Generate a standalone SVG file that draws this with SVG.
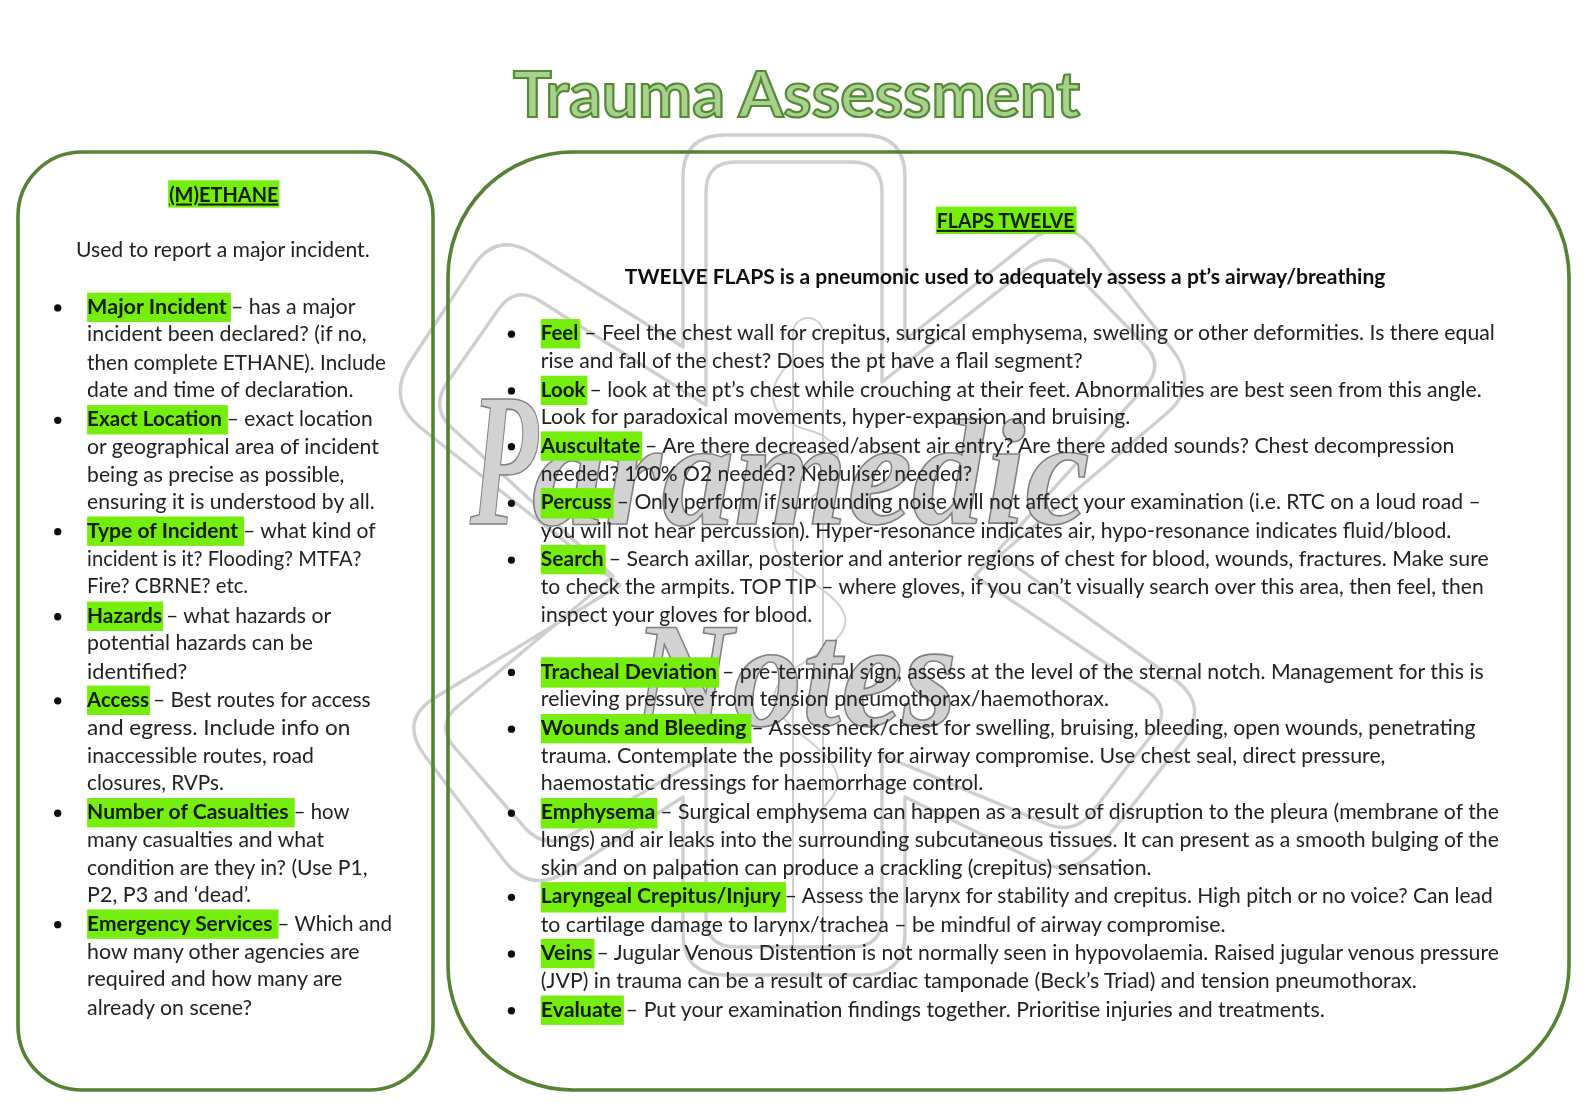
<svg xmlns="http://www.w3.org/2000/svg" width="1588" height="1118" viewBox="0 0 1588 1118">
<style>
text{font-family:Lato,"Liberation Sans",sans-serif;font-size:20px;fill:#222;white-space:pre}
.b{font-weight:700;fill:#0c1c04}
.u{text-decoration:underline}
.hl{fill:#75ee10}
.dot{fill:#111}
.panel{fill:none;stroke:#548235;stroke-width:3.6}
.title{font-size:64px;font-weight:700;fill:#a9d18e;stroke:#558a35;stroke-width:2.2}
.wm{font-family:"Liberation Serif",serif;font-style:italic;font-weight:700;font-size:150px;fill:#d2d2d2;stroke:#808080;stroke-width:1.6}
.snake{fill:none;stroke:#d0d0d0;stroke-width:2}
.star{fill:none;stroke-linejoin:round;stroke:#cfcfcf;stroke-width:3.4}
</style>
<defs>
<path id="outerStar" d="M683 177Q683 135 725 135L863 135Q905 135 905 177L905 340L1030 241Q1065 213 1093 249L1172 349Q1200 385 1166 414L1000 555L1174 679Q1210 705 1183 741L1102 844Q1075 880 1034 860L905 797L905 933Q905 975 863 975L725 975Q683 975 683 933L683 797L568 871Q530 895 503 859L425 756Q398 720 436 697L620 585L421 428Q386 400 410 362L472 268Q496 230 534 254L683 347Z"/>
<path id="innerStar" d="M706 192Q706 162 736 162L852 162Q882 162 882 192L882 382L1028 268Q1052 250 1073 271L1144 344Q1165 365 1145 387L975 576L1147 691Q1172 708 1154 732L1093 811Q1075 835 1047 824L882 755L882 917Q882 947 852 947L736 947Q706 947 706 917L706 755L571 835Q545 850 525 828L455 748Q435 725 458 706L613 576L452 428Q430 408 447 383L498 310Q515 285 540 301L706 405Z"/>
<filter id="soft" filterUnits="userSpaceOnUse" x="0" y="0" width="1588" height="1118"><feGaussianBlur stdDeviation="0.5"/></filter>
</defs>
<rect width="1588" height="1118" fill="#fff"/>
<g filter="url(#soft)">
<g id="watermark">
<use href="#outerStar" class="star"/>
<use href="#innerStar" class="star"/>
<rect x="793" y="318" width="30" height="640" rx="15" fill="none" stroke="#d0d0d0" stroke-width="2"/>
<path class="snake" d="M793 360C760 390 770 420 808 430S850 470 808 500S760 550 808 580S860 630 808 660S770 710 808 740S850 790 808 820"/>
<text class="wm" x="470" y="524" style="font-size:190px" textLength="68" lengthAdjust="spacingAndGlyphs">P</text>
<text class="wm" x="532" y="524" textLength="558" lengthAdjust="spacingAndGlyphs">aramedic</text>
<text class="wm" x="632" y="726" textLength="325" lengthAdjust="spacingAndGlyphs">Notes</text>
</g>
<g id="title"><text class="title" x="513" y="117" textLength="567" lengthAdjust="spacingAndGlyphs">Trauma Assessment</text></g>
<g id="panels">
<rect class="panel" x="18" y="152" width="415" height="938" rx="64"/>
<rect class="panel" x="448" y="152" width="1121" height="938" rx="125"/>
</g>
<g transform="scale(1.01276)">
<g id="methane">
<rect class="hl" x="166" y="178" width="110" height="27"/>
<text class="b u" x="167" y="199" textLength="108" lengthAdjust="spacingAndGlyphs">(M)ETHANE</text>
<text x="75" y="254" textLength="290" lengthAdjust="spacingAndGlyphs">Used to report a major incident.</text>
<g class="dot">
<circle cx="57" cy="304" r="3.6"/><circle cx="57" cy="415" r="3.6"/><circle cx="57" cy="525" r="3.6"/><circle cx="57" cy="609" r="3.6"/><circle cx="57" cy="692" r="3.6"/><circle cx="57" cy="803" r="3.6"/><circle cx="57" cy="913" r="3.6"/>
</g>
<g class="hl">
<rect x="86" y="289" width="142" height="29"/><rect x="86" y="400" width="139" height="29"/><rect x="86" y="510" width="155" height="29"/><rect x="86" y="594" width="75" height="29"/><rect x="86" y="677" width="62" height="29"/><rect x="86" y="788" width="205" height="29"/><rect x="86" y="898" width="189" height="29"/>
</g>
<text class="b" x="86" y="310" textLength="138" lengthAdjust="spacingAndGlyphs">Major Incident</text>
<text x="228" y="310" textLength="123" lengthAdjust="spacingAndGlyphs">– has a major</text>
<text x="86" y="337" textLength="276" lengthAdjust="spacingAndGlyphs">incident been declared? (if no,</text>
<text x="86" y="365" textLength="295" lengthAdjust="spacingAndGlyphs">then complete ETHANE). Include</text>
<text x="86" y="392" textLength="263" lengthAdjust="spacingAndGlyphs">date and time of declaration.</text>
<text class="b" x="86" y="421" textLength="133" lengthAdjust="spacingAndGlyphs">Exact Location</text>
<text x="224" y="421" textLength="144" lengthAdjust="spacingAndGlyphs">– exact location</text>
<text x="86" y="448" textLength="288" lengthAdjust="spacingAndGlyphs">or geographical area of incident</text>
<text x="86" y="476" textLength="254" lengthAdjust="spacingAndGlyphs">being as precise as possible,</text>
<text x="86" y="503" textLength="284" lengthAdjust="spacingAndGlyphs">ensuring it is understood by all.</text>
<text class="b" x="86" y="531" textLength="149" lengthAdjust="spacingAndGlyphs">Type of Incident</text>
<text x="240" y="531" textLength="131" lengthAdjust="spacingAndGlyphs">– what kind of</text>
<text x="86" y="559" textLength="271" lengthAdjust="spacingAndGlyphs">incident is it? Flooding? MTFA?</text>
<text x="86" y="586" textLength="159" lengthAdjust="spacingAndGlyphs">Fire? CBRNE? etc.</text>
<text class="b" x="86" y="615" textLength="74" lengthAdjust="spacingAndGlyphs">Hazards</text>
<text x="164" y="615" textLength="163" lengthAdjust="spacingAndGlyphs">– what hazards or</text>
<text x="86" y="642" textLength="223" lengthAdjust="spacingAndGlyphs">potential hazards can be</text>
<text x="86" y="670" textLength="99" lengthAdjust="spacingAndGlyphs">identified?</text>
<text class="b" x="86" y="698" textLength="61" lengthAdjust="spacingAndGlyphs">Access</text>
<text x="151" y="698" textLength="215" lengthAdjust="spacingAndGlyphs">– Best routes for access</text>
<text x="86" y="726" textLength="260" lengthAdjust="spacingAndGlyphs">and egress. Include info on</text>
<text x="86" y="753" textLength="224" lengthAdjust="spacingAndGlyphs">inaccessible routes, road</text>
<text x="86" y="780" textLength="135" lengthAdjust="spacingAndGlyphs">closures, RVPs.</text>
<text class="b" x="86" y="809" textLength="199" lengthAdjust="spacingAndGlyphs">Number of Casualties</text>
<text x="290" y="809" textLength="55" lengthAdjust="spacingAndGlyphs">– how</text>
<text x="86" y="836" textLength="234" lengthAdjust="spacingAndGlyphs">many casualties and what</text>
<text x="86" y="864" textLength="277" lengthAdjust="spacingAndGlyphs">condition are they in? (Use P1,</text>
<text x="86" y="891" textLength="162" lengthAdjust="spacingAndGlyphs">P2, P3 and ‘dead’.</text>
<text class="b" x="86" y="919" textLength="183" lengthAdjust="spacingAndGlyphs">Emergency Services</text>
<text x="274" y="919" textLength="113" lengthAdjust="spacingAndGlyphs">– Which and</text>
<text x="86" y="947" textLength="269" lengthAdjust="spacingAndGlyphs">how many other agencies are</text>
<text x="86" y="974" textLength="252" lengthAdjust="spacingAndGlyphs">required and how many are</text>
<text x="86" y="1002" textLength="163" lengthAdjust="spacingAndGlyphs">already on scene?</text>
</g>
<g id="flaps">
<rect class="hl" x="924" y="204" width="139" height="27"/>
<text class="b u" x="925" y="225" textLength="136" lengthAdjust="spacingAndGlyphs">FLAPS TWELVE</text>
<text class="b" style="fill:#111" x="617" y="280" textLength="751" lengthAdjust="spacingAndGlyphs">TWELVE FLAPS is a pneumonic used to adequately assess a pt’s airway/breathing</text>
<g class="dot">
<circle cx="505" cy="330" r="3.6"/><circle cx="505" cy="386" r="3.6"/><circle cx="505" cy="441" r="3.6"/><circle cx="505" cy="497" r="3.6"/><circle cx="505" cy="553" r="3.6"/><circle cx="505" cy="664" r="3.6"/><circle cx="505" cy="720" r="3.6"/><circle cx="505" cy="803" r="3.6"/><circle cx="505" cy="886" r="3.6"/><circle cx="505" cy="942" r="3.6"/><circle cx="505" cy="998" r="3.6"/>
</g>
<g class="hl">
<rect x="534" y="315" width="39" height="29"/><rect x="534" y="371" width="46" height="29"/><rect x="534" y="426" width="100" height="29"/><rect x="534" y="482" width="72" height="30"/><rect x="534" y="538" width="64" height="29"/><rect x="534" y="649" width="176" height="30"/><rect x="534" y="705" width="208" height="29"/><rect x="534" y="788" width="115" height="30"/><rect x="534" y="871" width="242" height="30"/><rect x="534" y="927" width="53" height="29"/><rect x="534" y="983" width="82" height="29"/>
</g>
<text class="b" x="534" y="336" textLength="37" lengthAdjust="spacingAndGlyphs">Feel</text>
<text x="577" y="336" textLength="899" lengthAdjust="spacingAndGlyphs">– Feel the chest wall for crepitus, surgical emphysema, swelling or other deformities. Is there equal</text>
<text x="534" y="363" textLength="535" lengthAdjust="spacingAndGlyphs">rise and fall of the chest? Does the pt have a flail segment?</text>
<text class="b" x="534" y="392" textLength="44" lengthAdjust="spacingAndGlyphs">Look</text>
<text x="582" y="392" textLength="881" lengthAdjust="spacingAndGlyphs">– look at the pt’s chest while crouching at their feet. Abnormalities are best seen from this angle.</text>
<text x="534" y="419" textLength="582" lengthAdjust="spacingAndGlyphs">Look for paradoxical movements, hyper-expansion and bruising.</text>
<text class="b" x="534" y="447" textLength="98" lengthAdjust="spacingAndGlyphs">Auscultate</text>
<text x="637" y="447" textLength="799" lengthAdjust="spacingAndGlyphs">– Are there decreased/absent air entry? Are there added sounds? Chest decompression</text>
<text x="534" y="475" textLength="426" lengthAdjust="spacingAndGlyphs">needed? 100% O2 needed? Nebuliser needed?</text>
<text class="b" x="534" y="503" textLength="70" lengthAdjust="spacingAndGlyphs">Percuss</text>
<text x="609" y="503" textLength="853" lengthAdjust="spacingAndGlyphs">– Only perform if surrounding noise will not affect your examination (i.e. RTC on a loud road –</text>
<text x="534" y="531" textLength="899" lengthAdjust="spacingAndGlyphs">you will not hear percussion). Hyper-resonance indicates air, hypo-resonance indicates fluid/blood.</text>
<text class="b" x="534" y="559" textLength="62" lengthAdjust="spacingAndGlyphs">Search</text>
<text x="601" y="559" textLength="869" lengthAdjust="spacingAndGlyphs">– Search axillar, posterior and anterior regions of chest for blood, wounds, fractures. Make sure</text>
<text x="534" y="587" textLength="931" lengthAdjust="spacingAndGlyphs">to check the armpits. TOP TIP – where gloves, if you can’t visually search over this area, then feel, then</text>
<text x="534" y="614" textLength="268" lengthAdjust="spacingAndGlyphs">inspect your gloves for blood.</text>
<text class="b" x="534" y="670" textLength="174" lengthAdjust="spacingAndGlyphs">Tracheal Deviation</text>
<text x="713" y="670" textLength="752" lengthAdjust="spacingAndGlyphs">– pre-terminal sign, assess at the level of the sternal notch. Management for this is</text>
<text x="534" y="697" textLength="561" lengthAdjust="spacingAndGlyphs">relieving pressure from tension pneumothorax/haemothorax.</text>
<text class="b" x="534" y="726" textLength="203" lengthAdjust="spacingAndGlyphs">Wounds and Bleeding</text>
<text x="742" y="726" textLength="715" lengthAdjust="spacingAndGlyphs">– Assess neck/chest for swelling, bruising, bleeding, open wounds, penetrating</text>
<text x="534" y="753" textLength="834" lengthAdjust="spacingAndGlyphs">trauma. Contemplate the possibility for airway compromise. Use chest seal, direct pressure,</text>
<text x="534" y="780" textLength="437" lengthAdjust="spacingAndGlyphs">haemostatic dressings for haemorrhage control.</text>
<text class="b" x="534" y="809" textLength="113" lengthAdjust="spacingAndGlyphs">Emphysema</text>
<text x="652" y="809" textLength="828" lengthAdjust="spacingAndGlyphs">– Surgical emphysema can happen as a result of disruption to the pleura (membrane of the</text>
<text x="534" y="836" textLength="946" lengthAdjust="spacingAndGlyphs">lungs) and air leaks into the surrounding subcutaneous tissues. It can present as a smooth bulging of the</text>
<text x="534" y="864" textLength="603" lengthAdjust="spacingAndGlyphs">skin and on palpation can produce a crackling (crepitus) sensation.</text>
<text class="b" x="534" y="892" textLength="237" lengthAdjust="spacingAndGlyphs">Laryngeal Crepitus/Injury</text>
<text x="775" y="892" textLength="699" lengthAdjust="spacingAndGlyphs">– Assess the larynx for stability and crepitus. High pitch or no voice? Can lead</text>
<text x="534" y="920" textLength="676" lengthAdjust="spacingAndGlyphs">to cartilage damage to larynx/trachea – be mindful of airway compromise.</text>
<text class="b" x="534" y="948" textLength="51" lengthAdjust="spacingAndGlyphs">Veins</text>
<text x="589" y="948" textLength="891" lengthAdjust="spacingAndGlyphs">– Jugular Venous Distention is not normally seen in hypovolaemia. Raised jugular venous pressure</text>
<text x="534" y="976" textLength="865" lengthAdjust="spacingAndGlyphs">(JVP) in trauma can be a result of cardiac tamponade (Beck’s Triad) and tension pneumothorax.</text>
<text class="b" x="534" y="1004" textLength="80" lengthAdjust="spacingAndGlyphs">Evaluate</text>
<text x="618" y="1004" textLength="690" lengthAdjust="spacingAndGlyphs">– Put your examination findings together. Prioritise injuries and treatments.</text>
</g>
</g>
</g>
</svg>
